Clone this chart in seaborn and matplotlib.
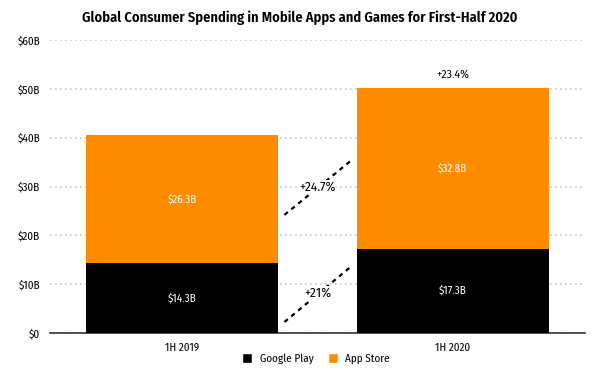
import matplotlib
matplotlib.use("Agg")
import matplotlib.pyplot as plt
import seaborn as sns
import pandas as pd
from matplotlib.patches import Patch

periods = ["1H 2019", "1H 2020"]
google_play = [14.3, 17.3]
app_store = [26.3, 32.8]
growth_google = "+21%"
growth_apple = "+24.7%"
growth_total = "+23.4%"

total = [g + a for g, a in zip(google_play, app_store)]
df = pd.DataFrame({"period": periods, "google": google_play, "apple": app_store, "total": total})

sns.set_style("white")
plt.rcParams["font.family"] = ["Fira Sans Condensed", "DejaVu Sans"]
plt.rcParams["text.color"] = "black"
plt.rcParams["xtick.color"] = "black"
plt.rcParams["ytick.color"] = "black"

orange = "#FF8C00"
fig = plt.figure(figsize=(6, 3.75), dpi=100)
ax = fig.add_axes([0.083, 0.112, 0.892, 0.781])

w = 0.71
sns.barplot(data=df, x="period", y="total", color=orange, width=w, saturation=1, linewidth=0, ax=ax, zorder=2)
sns.barplot(data=df, x="period", y="google", color="black", width=w, saturation=1, linewidth=0, ax=ax, zorder=3)

for i in range(len(periods)):
    ax.text(i, google_play[i] / 2, f"${google_play[i]}B", color="white", ha="center", va="center", fontsize=8, zorder=4)
    ax.text(i, google_play[i] + app_store[i] / 2, f"${app_store[i]}B", color="white", ha="center", va="center", fontsize=8, zorder=4)

ax.text(1, total[1] + 2.9, growth_total, ha="center", va="center", fontsize=8.5)

# growth connectors between the bars
ax.plot([0.378, 0.622], [2.25, 13.5], ls=(0, (2, 2)), color="black", lw=1.6, zorder=4)
ax.plot([0.378, 0.622], [24.2, 35.2], ls=(0, (2, 2)), color="black", lw=1.6, zorder=4)
ax.text(0.5, 8.2, growth_google, ha="center", va="center", fontsize=9.5, zorder=5,
        bbox=dict(facecolor="white", edgecolor="none", pad=0.5))
ax.text(0.5, 29.9, growth_apple, ha="center", va="center", fontsize=9.5, zorder=5,
        bbox=dict(facecolor="white", edgecolor="none", pad=0.5))

ax.set_ylim(0, 60)
ax.set_xlim(-0.49, 1.49)
ticks = [0, 10, 20, 30, 40, 50, 60]
ax.set_yticks(ticks)
ax.set_yticklabels(["$0"] + [f"${t}B" for t in ticks[1:]])
ax.yaxis.grid(True, ls=(0, (1, 2)), color="#c8c8c8", lw=1.2, zorder=0)
ax.set_axisbelow(True)
ax.set_xlabel("")
ax.set_ylabel("")
ax.tick_params(axis="both", length=0, labelsize=8, pad=7)
for s in ["top", "right", "left"]:
    ax.spines[s].set_visible(False)
ax.spines["bottom"].set_color("#333333")
ax.spines["bottom"].set_linewidth(1.2)

fig.suptitle("Global Consumer Spending in Mobile Apps and Games for First-Half 2020",
             x=0.5, y=0.952, fontsize=10.4, fontweight="semibold", va="center")

handles = [Patch(facecolor="black", label="Google Play"), Patch(facecolor=orange, label="App Store")]
fig.legend(handles=handles, loc="center", bbox_to_anchor=(0.527, 0.043), ncol=2, frameon=False,
           fontsize=8, handlelength=0.9, handleheight=0.9, columnspacing=1.35, handletextpad=0.65)

fig.savefig("out.png", dpi=100)
